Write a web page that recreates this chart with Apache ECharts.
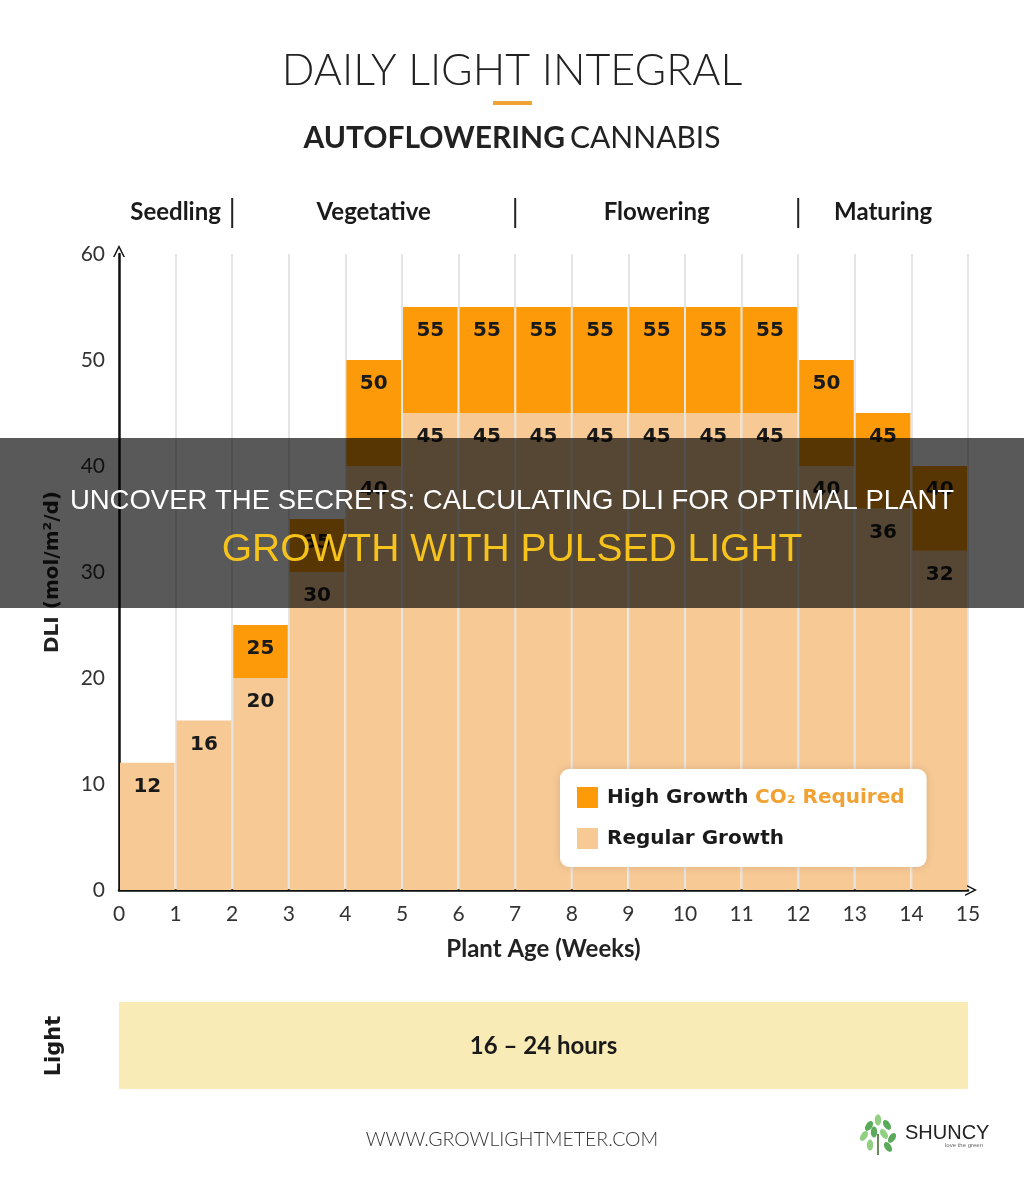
<!DOCTYPE html>
<html>
<head>
<meta charset="utf-8">
<script src="https://cdn.jsdelivr.net/npm/echarts@6/dist/echarts.min.js"></script>
<style>
html,body{margin:0;padding:0;background:#fff;}
#c{width:1024px;height:1179px;}
</style>
</head>
<body>
<div id="c"></div>
<script>
// ---- data ----
const weeks = [0,1,2,3,4,5,6,7,8,9,10,11,12,13,14];
const regularGrowth = [12,16,20,30,40,45,45,45,45,45,45,45,40,36,32];
const highGrowth = [null,null,25,35,50,55,55,55,55,55,55,55,50,45,40];
const xTicks = [0,1,2,3,4,5,6,7,8,9,10,11,12,13,14,15];
const phaseNames = ['Seedling','Vegetative','Flowering','Maturing'];
const phaseStart = [0,2,7,12];
const phaseEnd = [2,7,12,15];
const lightText = '16 – 24 hours';

const ORANGE = '#FD9A0A';
const PEACH = '#F7C995';
const FONT = 'Lato, "Open Sans", sans-serif';
const WFONT = '"DejaVu Sans", Lato, sans-serif';

const chart = echarts.init(document.getElementById('c'), null, {renderer:'canvas'});

function makeRender(topColor) {
  return function (params, api) {
    const x0 = api.value(0), lo = api.value(1), hi = api.value(2);
    const pTop = api.coord([x0, hi]);
    const pBot = api.coord([x0 + 1, lo]);
    const w = pBot[0] - pTop[0];
    return {
      type: 'group',
      children: [
        {type:'rect', shape:{x:pTop[0]+1, y:pTop[1], width:w-2, height:pBot[1]-pTop[1]},
         style:{fill: topColor}},
        {type:'text', style:{text:String(hi), x:pTop[0]+w/2, y:pTop[1]+24, align:'center', verticalAlign:'middle',
          font:'bold 20px ' + WFONT, fill:'#1a1a1a'}}
      ]
    };
  };
}

const regData = weeks.map((w,i)=>[w, 0, regularGrowth[i]]);
const highData = weeks.map((w,i)=>[w, regularGrowth[i], highGrowth[i]]).filter(d=>d[2]!=null);

const arrowPath = 'path://M0,12 L6,0 L12,12 L10.4,12 L6,3.2 L1.6,12 Z';

const option = {
  backgroundColor:'#fff',
  animation:false,
  title:[
    {text:'DAILY LIGHT INTEGRAL', left:'center', top:45,
     textStyle:{fontFamily:FONT, fontWeight:300, fontSize:43, color:'#222'}},
    {text:'{b|AUTOFLOWERING} {n|CANNABIS}', left:'center', top:118,
     textStyle:{rich:{b:{fontFamily:FONT, fontWeight:'bold', fontSize:30, color:'#222'},
                      n:{fontFamily:FONT, fontWeight:400, fontSize:30, color:'#222'}}}}
  ],
  grid:{left:119, right:56, top:254, bottom:289, containLabel:false},
  xAxis:{
    type:'value', min:0, max:15, interval:1,
    axisLine:{show:true, lineStyle:{color:'#111', width:2.5}, symbol:['none', arrowPath], symbolSize:[14,12], symbolOffset:[0,3]},
    axisTick:{show:false},
    axisLabel:{fontFamily:FONT, fontSize:21, color:'#333', margin:14,
      formatter:(v)=> xTicks.indexOf(v) >= 0 ? String(v) : ''},
    splitLine:{show:true, lineStyle:{color:'#dcdcdc', width:1.5}},
    name:'Plant Age (Weeks)', nameLocation:'middle', nameGap:47,
    nameTextStyle:{fontFamily:FONT, fontWeight:'bold', fontSize:24, color:'#222'}
  },
  yAxis:{
    type:'value', min:0, max:60, interval:10,
    axisLine:{show:true, lineStyle:{color:'#111', width:2.5}, symbol:['none', arrowPath], symbolSize:[14,12], symbolOffset:[0,3]},
    axisTick:{show:false},
    axisLabel:{fontFamily:FONT, fontSize:21, color:'#333', margin:14},
    splitLine:{show:false},
    name:'DLI (mol/m²/d)', nameLocation:'middle', nameGap:56, nameRotate:90,
    nameTextStyle:{fontFamily:WFONT, fontWeight:'bold', fontSize:20, color:'#222'}
  },
  legend:{
    orient:'vertical', left:560, top:769,
    backgroundColor:'#fff', borderRadius:9, padding:[18,22,18,17], itemGap:20,
    itemWidth:21, itemHeight:21, icon:'rect',
    shadowBlur:10, shadowColor:'rgba(0,0,0,0.12)',
    data:['High Growth','Regular Growth'],
    formatter:(name)=> name==='High Growth' ? '{a|High Growth}  {c|CO₂ Required}' : '{a|Regular Growth}',
    textStyle:{padding:[0,0,0,4], rich:{
      a:{fontFamily:WFONT, fontWeight:'bold', fontSize:20, color:'#1a1a1a'},
      c:{fontFamily:WFONT, fontWeight:'bold', fontSize:20, color:'#F0A232'}
    }}
  },
  series:[
    {type:'custom', name:'Regular Growth', renderItem:makeRender(PEACH), data:regData,
     itemStyle:{color:PEACH}, encode:{x:0, y:[1,2]}, z:2},
    {type:'custom', name:'High Growth', renderItem:makeRender(ORANGE), data:highData,
     itemStyle:{color:ORANGE}, encode:{x:0, y:[1,2]}, z:3}
  ]
};
chart.setOption(option);

// annotations positioned from axis scales
const px = (w)=> chart.convertToPixel({xAxisIndex:0}, w);
const g = [];
// orange dash under title
g.push({type:'rect', shape:{x:493, y:101, width:39, height:4}, style:{fill:'#F0A232'}});
// phase labels & separators
phaseNames.forEach((n,i)=>{
  const cx = (px(phaseStart[i]) + px(phaseEnd[i]))/2;
  g.push({type:'text', style:{text:n, x:cx, y:212, align:'center', verticalAlign:'middle',
    font:'bold 24px ' + FONT, fill:'#1a1a1a'}});
  if (i>0) {
    const sx = px(phaseStart[i]);
    g.push({type:'line', shape:{x1:sx, y1:198, x2:sx, y2:228}, style:{stroke:'#222', lineWidth:2}});
  }
});
// light band
const bx0 = px(0), bx1 = px(15);
g.push({type:'rect', shape:{x:bx0, y:1002, width:bx1-bx0, height:87}, style:{fill:'#F9EBB5'}});
g.push({type:'text', style:{text:lightText, x:(bx0+bx1)/2, y:1046, align:'center', verticalAlign:'middle',
  font:'bold 24px ' + FONT, fill:'#1a1a1a'}});
g.push({type:'text', x:55, y:1046, rotation:Math.PI/2,
  style:{text:'Light', x:0, y:0, align:'center', verticalAlign:'middle', font:'bold 21px ' + WFONT, fill:'#1a1a1a'}});
// footer
g.push({type:'text', style:{text:'WWW.GROWLIGHTMETER.COM', x:512, y:1140, align:'center', verticalAlign:'middle',
  font:'300 19.5px ' + FONT, fill:'#333'}});
// logo
const leaves = [[869,1126],[878,1120],[887,1125],[864,1136],[874,1132],[884,1134],[892,1138],[870,1145],[888,1147]];
leaves.forEach((p,i)=>{
  g.push({type:'ellipse', x:p[0], y:p[1], rotation:(i%3-1)*0.6, shape:{cx:0, cy:0, rx:3.2, ry:5.5},
    style:{fill: i%2 ? '#7CC86A' : '#3E9B40', opacity:0.85}});
});
g.push({type:'line', shape:{x1:878, y1:1155, x2:878, y2:1134}, style:{stroke:'#6a8a5a', lineWidth:2}});
g.push({type:'text', style:{text:'SHUNCY', x:905, y:1133, align:'left', verticalAlign:'middle',
  font:'20px "Liberation Sans Narrow", "Liberation Sans", sans-serif', fill:'#222'}});
g.push({type:'text', style:{text:'love the green', x:945, y:1145, align:'left', verticalAlign:'middle',
  font:'6px sans-serif', fill:'#666'}});
// overlay banner
g.push({type:'rect', z:100, shape:{x:0, y:438, width:1024, height:170}, style:{fill:'rgba(0,0,0,0.65)'}});
g.push({type:'text', z:101, style:{text:'UNCOVER THE SECRETS: CALCULATING DLI FOR OPTIMAL PLANT', x:512, y:501,
  align:'center', verticalAlign:'middle', font:'27.5px "Liberation Sans", Arial, sans-serif', fill:'#fff'}});
g.push({type:'text', z:101, style:{text:'GROWTH WITH PULSED LIGHT', x:512, y:550,
  align:'center', verticalAlign:'middle', font:'39px "Liberation Sans", Arial, sans-serif', fill:'#F6C21C'}});

chart.setOption({graphic:{elements:g}});
</script>
</body>
</html>
